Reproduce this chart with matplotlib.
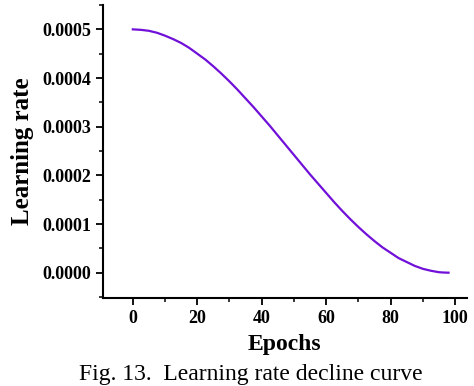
import matplotlib.pyplot as plt
from matplotlib.ticker import MultipleLocator

# learning rate (cosine-like decay)
epochs = [0, 2.5, 5, 7.5, 10, 12.5, 15, 17.5, 20, 22.5, 25, 27.5, 30, 32.5, 35, 37.5, 40,
          42.5, 45, 47.5, 50, 52.5, 55, 57.5, 60, 62.5, 65, 67.5, 70, 72.5, 75, 77.5, 80,
          82.5, 85, 87.5, 90, 92.5, 95, 96.5, 98]
lr = [5.00e-4, 4.99e-4, 4.97e-4, 4.93e-4, 4.87e-4, 4.80e-4, 4.72e-4, 4.62e-4, 4.50e-4,
      4.38e-4, 4.24e-4, 4.09e-4, 3.93e-4, 3.76e-4, 3.58e-4, 3.40e-4, 3.21e-4, 3.02e-4,
      2.82e-4, 2.62e-4, 2.42e-4, 2.22e-4, 2.02e-4, 1.83e-4, 1.64e-4, 1.45e-4, 1.27e-4,
      1.10e-4, 0.94e-4, 0.79e-4, 0.65e-4, 0.52e-4, 0.41e-4, 0.30e-4, 0.22e-4, 0.14e-4,
      0.08e-4, 0.04e-4, 0.01e-4, 0.003e-4, 0.0]
yticks = [0.0, 0.0001, 0.0002, 0.0003, 0.0004, 0.0005]
xticks = [0, 20, 40, 60, 80, 100]

plt.rcParams['font.family'] = ['Liberation Serif', 'DejaVu Serif']

fig = plt.figure(figsize=(4.74, 3.86), dpi=100)
ax = fig.add_axes([0.217, 0.228, 0.768, 0.759])

ax.plot(epochs, lr, color='#7010d8', linewidth=1.6)

ax.set_xlim(-9.3, 103.7)
ax.set_ylim(-0.000052, 0.00055)
ax.set_xticks(xticks)
ax.set_yticks(yticks)
ax.set_yticklabels(['%.4f' % v for v in yticks])
ax.xaxis.set_minor_locator(MultipleLocator(10))
ax.yaxis.set_minor_locator(MultipleLocator(0.00005))

for s in ['top', 'right']:
    ax.spines[s].set_visible(False)
for s in ['left', 'bottom']:
    ax.spines[s].set_linewidth(1.5)

ax.tick_params(which='major', direction='out', length=5, width=1.3, labelsize=13)
ax.tick_params(which='minor', direction='out', length=3, width=1.1)
for lab in ax.get_xticklabels() + ax.get_yticklabels():
    lab.set_fontweight('bold')

ax.set_xlabel('Epochs', fontsize=17, fontweight='bold', labelpad=5)
ax.set_ylabel('Learning rate', fontsize=18, fontweight='bold', labelpad=6)

fig.text(0.53, 0.003, 'Fig. 13.  Learning rate decline curve', ha='center', va='bottom',
         fontsize=17)

fig.savefig('out.png', dpi=100)
